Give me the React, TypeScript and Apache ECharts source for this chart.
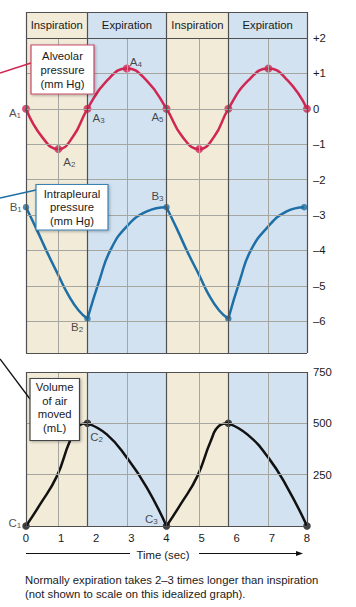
import React, { useEffect, useRef } from 'react';
import * as echarts from 'echarts';

// ---------- data ----------
const timeTicks = [0, 1, 2, 3, 4, 5, 6, 7, 8];
const phaseNames = ['Inspiration', 'Expiration', 'Inspiration', 'Expiration'];
const phaseBounds = [0, 1.75, 4, 5.76, 8];
const minorGridTimes = [0.92, 2.87, 4.93, 6.9];

const pressureTicks = [2, 1, 0, -1, -2, -3, -4, -5, -6];
const pressureTickLabels = ['+2', '+1', '0', '–1', '–2', '–3', '–4', '–5', '–6'];
const pressureMin = -6.9;
const pressureMax = 2;

const volumeTicks = [0, 250, 500, 750];
const volumeTickLabels = ['', '250', '500', '750'];

const alveolarTime = [0, 0.46, 0.92, 1.33, 1.75, 2.31, 2.87, 3.43, 4, 4.46, 4.93, 5.35, 5.76, 6.33, 6.9, 7.45, 8];
const alveolarPressure = [0, -0.8, -1.14, -0.8, 0, 0.8, 1.14, 0.8, 0, -0.8, -1.14, -0.8, 0, 0.8, 1.14, 0.8, 0];
const alveolarKeyIndex = [0, 2, 4, 6, 8, 10, 12, 14, 16];
const alveolarKeyNames = ['A1', 'A2', 'A3', 'A4', 'A5', '', '', '', ''];

const pleuralTime = [0, 0.3, 0.6, 0.92, 1.2, 1.5, 1.75, 2.1, 2.4, 2.87, 3.44, 4, 4.3, 4.6, 4.93, 5.2, 5.5, 5.76, 6.1, 6.4, 6.9, 7.42, 7.92];
const pleuralPressure = [-2.78, -3.4, -4.05, -4.7, -5.25, -5.7, -5.93, -4.81, -4.0, -3.32, -2.9, -2.78, -3.4, -4.05, -4.7, -5.25, -5.7, -5.93, -4.81, -4.0, -3.32, -2.9, -2.78];
const pleuralKeyIndex = [0, 6, 11, 17, 22];
const pleuralKeyNames = ['B1', 'B2', 'B3', '', ''];

const volumeTime = [0, 0.4, 0.88, 1.25, 1.5, 1.75, 2.3, 2.87, 3.44, 4, 4.4, 4.88, 5.26, 5.5, 5.76, 6.3, 6.9, 7.44, 8];
const volumeMl = [0, 105, 243, 414, 488, 500, 446, 333, 187, 0, 105, 243, 414, 488, 500, 446, 333, 187, 0];
const volumeKeyIndex = [0, 5, 9, 14, 18];
const volumeKeyNames = ['C1', 'C2', 'C3', '', ''];

// ---------- styles ----------
const FONT = '"Liberation Sans", Arial, Helvetica, sans-serif';
const TEXT = '#1a1a1a';
const BEIGE = '#f1ebd8';
const BLUEBG = '#d3e2f1';
const GRID_GRAY = '#a6a6a0';
const FRAME = '#505050';
const PINK = '#d02752';
const BLUE = '#1e6fa6';
const BLACK = '#111111';
const FS = 11.3;

const labelPlacement: Record<string, any> = {
  A1: { position: 'left', distance: 1, offset: [0, 4] },
  A2: { position: 'bottom', distance: 2, offset: [11, 0] },
  A3: { position: 'right', distance: 1, offset: [0, 9] },
  A4: { position: 'right', distance: -1, offset: [0, -6] },
  A5: { position: 'left', distance: -1, offset: [0, 8] },
  B1: { position: 'left', distance: 1, offset: [0, 0] },
  B2: { position: 'left', distance: 1, offset: [0, 8] },
  B3: { position: 'top', distance: 1, offset: [-9, 0] },
  C1: { position: 'left', distance: 1, offset: [0, -3] },
  C2: { position: 'right', distance: -1, offset: [0, 14] },
  C3: { position: 'left', distance: 5, offset: [0, -7] },
};

const rich = {
  m: { fontSize: 11.5, fontFamily: FONT, color: TEXT, lineHeight: 13 },
  s: { fontSize: 8, fontFamily: FONT, color: TEXT, lineHeight: 6, verticalAlign: 'bottom' },
};

function keyPoints(xs: number[], ys: number[], idx: number[], names: string[]) {
  return idx.map((k, i) => {
    const name = names[i];
    const item: any = { value: [xs[k], ys[k]] };
    if (name) {
      item.label = {
        show: true,
        formatter: `{m|${name[0]}}{s|${name.slice(1)}}`,
        rich,
        ...labelPlacement[name],
      };
    }
    return item;
  });
}

function segments(xs: number[], ys: number[], corners: number[]) {
  const out: number[][][] = [];
  for (let i = 0; i < corners.length - 1; i++) {
    const seg: number[][] = [];
    for (let k = corners[i]; k <= corners[i + 1]; k++) seg.push([xs[k], ys[k]]);
    out.push(seg);
  }
  return out;
}

function bandArea(withLabels: boolean) {
  return {
    silent: true,
    label: withLabels
      ? { show: true, position: 'inside', color: TEXT, fontSize: FS, fontFamily: FONT }
      : { show: false },
    data: phaseNames.map((n, i) => [
      { name: n, xAxis: phaseBounds[i], itemStyle: { color: i % 2 ? BLUEBG : BEIGE } },
      { xAxis: phaseBounds[i + 1] },
    ]),
  };
}

function gridLines(hGray: number[], vGray: number[], hDark: number[], vDark: number[]) {
  const gray = { color: GRID_GRAY, width: 1, type: 'solid' };
  const dark = { color: FRAME, width: 1.2, type: 'solid' };
  return {
    silent: true,
    symbol: ['none', 'none'],
    label: { show: false },
    data: [
      ...hGray.map((v) => ({ yAxis: v, lineStyle: gray })),
      ...vGray.map((v) => ({ xAxis: v, lineStyle: gray })),
      ...hDark.map((v) => ({ yAxis: v, lineStyle: dark })),
      ...vDark.map((v) => ({ xAxis: v, lineStyle: dark })),
    ],
  };
}

export default function App() {
  const ref = useRef<HTMLDivElement>(null);

  useEffect(() => {
    if (!ref.current) return;
    const chart = echarts.init(ref.current, null, { renderer: 'svg' });

    const hiddenX = (gi: number) => ({
      type: 'value', gridIndex: gi, min: 0, max: 8, interval: 1,
      axisLine: { show: false }, axisTick: { show: false }, axisLabel: { show: false }, splitLine: { show: false },
    });

    const pleuralSegs = segments(pleuralTime, pleuralPressure, pleuralKeyIndex);
    const volumeSegs = segments(volumeTime, volumeMl, volumeKeyIndex);

    const series: any[] = [
      // header
      {
        type: 'line', xAxisIndex: 0, yAxisIndex: 0, data: [[0, 0]], symbol: 'none', z: 1,
        lineStyle: { width: 0 }, markArea: bandArea(true),
      },
      {
        type: 'line', xAxisIndex: 0, yAxisIndex: 0, data: [[0, 0]], symbol: 'none', z: 2,
        lineStyle: { width: 0 }, markLine: gridLines([], [], [0, 1], phaseBounds),
      },
      // pressure panel
      {
        type: 'line', xAxisIndex: 1, yAxisIndex: 1, data: [[0, 0]], symbol: 'none', z: 1,
        lineStyle: { width: 0 }, markArea: bandArea(false),
      },
      {
        type: 'line', xAxisIndex: 1, yAxisIndex: 1, data: [[0, 0]], symbol: 'none', z: 2,
        lineStyle: { width: 0 },
        markLine: gridLines(pressureTicks.filter((v) => v !== pressureMax), minorGridTimes, [pressureMax, pressureMin], phaseBounds),
      },
      {
        type: 'line', xAxisIndex: 1, yAxisIndex: 1, z: 3, smooth: 0.5, symbol: 'none', clip: false,
        data: alveolarTime.map((t, i) => [t, alveolarPressure[i]]),
        lineStyle: { color: PINK, width: 2.5 },
      },
      ...pleuralSegs.map((seg) => ({
        type: 'line', xAxisIndex: 1, yAxisIndex: 1, z: 3, smooth: 0.5, symbol: 'none', clip: false,
        data: seg, lineStyle: { color: BLUE, width: 2.5 },
      })),
      {
        type: 'scatter', xAxisIndex: 1, yAxisIndex: 1, z: 4, symbolSize: 8, clip: false,
        itemStyle: { color: PINK },
        data: keyPoints(alveolarTime, alveolarPressure, alveolarKeyIndex, alveolarKeyNames),
      },
      {
        type: 'scatter', xAxisIndex: 1, yAxisIndex: 1, z: 4, symbolSize: 6.5, clip: false,
        itemStyle: { color: BLUE },
        data: keyPoints(pleuralTime, pleuralPressure, pleuralKeyIndex, pleuralKeyNames),
      },
      // volume panel
      {
        type: 'line', xAxisIndex: 2, yAxisIndex: 2, data: [[0, 0]], symbol: 'none', z: 1,
        lineStyle: { width: 0 }, markArea: bandArea(false),
      },
      {
        type: 'line', xAxisIndex: 2, yAxisIndex: 2, data: [[0, 0]], symbol: 'none', z: 2,
        lineStyle: { width: 0 },
        markLine: gridLines([250, 500], minorGridTimes, [0, 750], phaseBounds),
      },
      ...volumeSegs.map((seg) => ({
        type: 'line', xAxisIndex: 2, yAxisIndex: 2, z: 3, smooth: 0.5, symbol: 'none', clip: false,
        data: seg, lineStyle: { color: BLACK, width: 2.5 },
      })),
      {
        type: 'scatter', xAxisIndex: 2, yAxisIndex: 2, z: 4, symbolSize: 7.5, clip: false,
        itemStyle: { color: BLACK },
        data: keyPoints(volumeTime, volumeMl, volumeKeyIndex, volumeKeyNames),
      },
    ];

    const textStyle = (text: string, x: number, y: number, lh: number, align = 'center') => ({
      type: 'text', x, y, z: 101,
      style: {
        text, fill: TEXT, fontSize: FS, fontFamily: FONT, lineHeight: lh,
        align, textAlign: align, verticalAlign: 'middle', textVerticalAlign: 'middle',
      },
    });
    const box = (x: number, y: number, w: number, h: number, stroke: string) => ({
      type: 'rect', z: 100,
      shape: { x, y, width: w, height: h },
      style: {
        fill: '#ffffff', stroke, lineWidth: 1.2,
        shadowBlur: 3, shadowColor: 'rgba(0,0,0,0.3)', shadowOffsetX: 1, shadowOffsetY: 1,
      },
    });
    const seg = (x1: number, y1: number, x2: number, y2: number, stroke: string, w = 1.5) => ({
      type: 'line', z: 100, shape: { x1, y1, x2, y2 }, style: { stroke, lineWidth: w },
    });

    const option: any = {
      animation: false,
      backgroundColor: '#ffffff',
      grid: [
        { left: 26, top: 12, width: 281, height: 26 },
        { left: 26, top: 38, width: 281, height: 315 },
        { left: 26, top: 372, width: 281, height: 154 },
      ],
      xAxis: [
        hiddenX(0),
        hiddenX(1),
        {
          type: 'value', gridIndex: 2, min: 0, max: 8, interval: 1,
          axisLine: { show: false }, axisTick: { show: false }, splitLine: { show: false },
          axisLabel: {
            show: true, margin: 6, color: TEXT, fontSize: FS, fontFamily: FONT,
            formatter: (v: number) => (timeTicks.includes(v) ? String(v) : ''),
          },
        },
      ],
      yAxis: [
        {
          type: 'value', gridIndex: 0, min: 0, max: 1, show: false,
          splitLine: { show: false },
        },
        {
          type: 'value', gridIndex: 1, min: pressureMin, max: pressureMax, position: 'right',
          axisLine: { show: false }, axisTick: { show: false }, splitLine: { show: false },
          axisLabel: {
            show: true, margin: 6, color: TEXT, fontSize: FS, fontFamily: FONT,
            customValues: pressureTicks,
            formatter: (v: number) => {
              const i = pressureTicks.indexOf(Math.round(v));
              return i >= 0 ? pressureTickLabels[i] : '';
            },
          },
        },
        {
          type: 'value', gridIndex: 2, min: 0, max: 750, interval: 250, position: 'right',
          axisLine: { show: false }, axisTick: { show: false }, splitLine: { show: false },
          axisLabel: {
            show: true, margin: 6, color: TEXT, fontSize: FS, fontFamily: FONT,
            formatter: (v: number) => {
              const i = volumeTicks.indexOf(v);
              return i >= 0 ? volumeTickLabels[i] : '';
            },
          },
        },
      ],
      series,
      graphic: [
        seg(0, 73, 31, 63, PINK),
        box(31, 45, 63, 49, '#c84a6b'),
        textStyle('Alveolar\npressure\n(mm Hg)', 62.5, 69.5, 14),
        seg(0, 198, 36, 190, BLUE),
        box(36, 184.5, 72, 45.5, '#3a82b3'),
        textStyle('Intrapleural\npressure\n(mm Hg)', 72, 207, 13.5),
        seg(0, 359, 30, 399, BLACK, 1.3),
        box(30, 378.5, 49.5, 62, '#444444'),
        textStyle('Volume\nof air\nmoved\n(mL)', 54.7, 407.5, 13.8),
        seg(26, 553.5, 130, 553.5, BLACK, 1.2),
        seg(199, 553.5, 297, 553.5, BLACK, 1.2),
        {
          type: 'polygon', z: 100,
          shape: { points: [[296, 551], [303, 553.5], [296, 556]] },
          style: { fill: BLACK },
        },
        textStyle('Time (sec)', 163, 555, 14),
        textStyle('Normally expiration takes 2–3 times longer than inspiration', 25, 580, 14, 'left'),
        textStyle('(not shown to scale on this idealized graph).', 25, 594.3, 14, 'left'),
      ],
    };

    chart.setOption(option);
    return () => chart.dispose();
  }, []);

  return (
    <div
      ref={ref}
      style={{ position: 'fixed', left: 0, top: 0, width: 356, height: 607, background: '#fff' }}
    />
  );
}
